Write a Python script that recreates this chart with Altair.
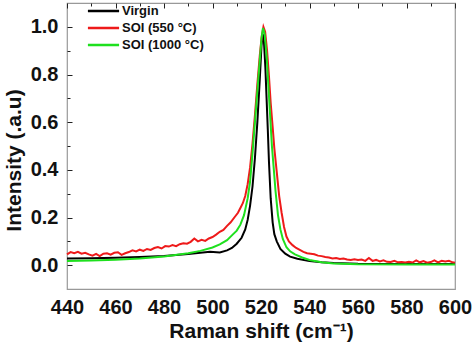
import altair as alt
import pandas as pd

# Virgin
virgin_x = [440, 450, 460, 470, 480, 490, 495, 499, 503, 506, 508, 510, 512, 513.5, 514.5,
            515.5, 516.5, 517.5, 518.5, 519.5, 520.2, 520.7, 521.2, 521.8, 522.3, 522.8,
            523.3, 524, 524.8, 525.5, 526.5, 528, 530, 532, 535, 540, 545, 550, 560, 580, 600]
virgin_y = [0.028, 0.029, 0.031, 0.034, 0.038, 0.047, 0.052, 0.056, 0.053, 0.062, 0.072,
            0.09, 0.115, 0.15, 0.19, 0.25, 0.33, 0.45, 0.6, 0.78, 0.92, 0.97, 0.94, 0.83,
            0.7, 0.57, 0.43, 0.28, 0.18, 0.13, 0.1, 0.068, 0.048, 0.036, 0.027, 0.017,
            0.012, 0.009, 0.006, 0.005, 0.005]

# SOI (1000 °C)
soi1000_x = [440, 450, 460, 470, 480, 490, 495, 500, 503, 506, 508, 510, 511.5, 513, 514.5,
             515.5, 516.5, 517.5, 518.5, 519.5, 520.2, 520.8, 521.5, 522.3, 523, 523.7,
             524.5, 525.3, 526, 527, 528, 529, 530.5, 532, 534, 537, 540, 545, 550, 560,
             580, 600]
soi1000_y = [0.017, 0.02, 0.023, 0.028, 0.036, 0.05, 0.06, 0.074, 0.087, 0.105, 0.125,
             0.145, 0.17, 0.21, 0.28, 0.35, 0.47, 0.6, 0.73, 0.86, 0.95, 0.995, 0.97, 0.88,
             0.76, 0.64, 0.5, 0.4, 0.31, 0.21, 0.15, 0.11, 0.075, 0.058, 0.045, 0.032,
             0.022, 0.012, 0.007, 0.004, 0.003, 0.003]

# SOI (550 °C)
soi550_x = [440, 441.5, 443, 444.5, 446, 447.5, 449, 450.5, 452, 453.5, 455, 456.5, 458,
            459.5, 461, 462.5, 464, 465.5, 467, 468.5, 470, 471.5, 473, 474.5, 476, 477.5,
            479, 480.5, 482, 483.5, 485, 486.5, 488, 489.5, 491, 492.5, 494, 495.5, 497,
            498.5, 500, 501.5, 503, 504.5, 506, 507.5, 509, 510.5, 511.5, 512.5, 513.5,
            514.5, 515.5, 516.5, 517.5, 518.5, 519.5, 520.3, 521, 521.7, 522.5, 523.3, 524,
            524.8, 525.5, 526.5, 527.5, 528.5, 529.5, 530.5, 531.5, 533, 534.5, 536, 537.5,
            539, 540.5, 542, 543.5, 545, 546.5, 548, 549.5, 551, 552.5, 554, 555.5, 557,
            558.5, 560, 561.5, 563, 564.5, 566, 567.5, 569, 570.5, 572, 573.5, 575, 576.5,
            578, 579.5, 581, 582.5, 584, 585.5, 587, 588.5, 590, 591.5, 593, 594.5, 596,
            597.5, 599, 600]
soi550_y = [0.045, 0.055, 0.05, 0.056, 0.048, 0.052, 0.045, 0.04, 0.047, 0.038, 0.048,
            0.05, 0.044, 0.052, 0.054, 0.043, 0.05, 0.055, 0.062, 0.058, 0.065, 0.06, 0.068,
            0.064, 0.072, 0.076, 0.07, 0.08, 0.078, 0.084, 0.08, 0.088, 0.092, 0.09, 0.098,
            0.112, 0.1, 0.106, 0.102, 0.112, 0.118, 0.128, 0.14, 0.148, 0.165, 0.18, 0.2,
            0.22, 0.24, 0.26, 0.29, 0.34, 0.41, 0.51, 0.63, 0.76, 0.88, 0.96, 1.0, 0.98,
            0.9, 0.79, 0.68, 0.58, 0.49, 0.39, 0.29, 0.22, 0.16, 0.12, 0.1, 0.084, 0.072,
            0.064, 0.056, 0.05, 0.048, 0.046, 0.04, 0.038, 0.034, 0.032, 0.028, 0.03, 0.026,
            0.028, 0.024, 0.022, 0.025, 0.022, 0.024, 0.018, 0.03, 0.018, 0.022, 0.016,
            0.02, 0.014, 0.013, 0.018, 0.012, 0.013, 0.011, 0.014, 0.011, 0.02, 0.012,
            0.017, 0.01, 0.013, 0.02, 0.012, 0.018, 0.015, 0.018, 0.012, 0.01]

series_names = ["Virgin", "SOI (550 °C)", "SOI (1000 °C)"]
series_colors = ["#000000", "#ee1a1a", "#1ee01e"]
draw_order = {"SOI (550 °C)": 0, "Virgin": 1, "SOI (1000 °C)": 2}

x_ticks = list(range(440, 601, 10))
y_ticks = [round(i * 0.1, 1) for i in range(0, 11)]

frames = []
for name, xs, ys in [("Virgin", virgin_x, virgin_y),
                     ("SOI (550 °C)", soi550_x, soi550_y),
                     ("SOI (1000 °C)", soi1000_x, soi1000_y)]:
    frames.append(pd.DataFrame({"shift": xs, "intensity": ys, "sample": name,
                                "order": draw_order[name]}))
df = pd.concat(frames, ignore_index=True)

FONT = "Liberation Sans"

x_axis = alt.Axis(
    values=x_ticks,
    labelExpr="datum.value % 20 == 0 ? datum.label : ''",
    format="d",
    labelFlush=False,
    labelOverlap=False,
    grid=True,
    gridColor="#222222",
    gridWidth=1,
    gridDash=alt.condition("datum.value % 20 == 0", alt.value([5, 2000]), alt.value([3, 2000])),
    ticks=False,
    domain=False,
    labelFont=FONT, labelFontSize=20, labelFontWeight="bold", labelColor="#111111",
    labelPadding=8,
    title="Raman shift (cm⁻¹)",
    titleFont=FONT, titleFontSize=21, titleFontWeight="bold", titleColor="#111111",
    titlePadding=3,
)

y_axis = alt.Axis(
    values=y_ticks,
    labelExpr="round(datum.value * 10) % 2 == 0 ? format(datum.value, '.1f') : ''",
    labelFlush=False,
    labelOverlap=False,
    grid=True,
    gridColor="#222222",
    gridWidth=1,
    gridDash=alt.condition("round(datum.value * 10) % 2 == 0", alt.value([5, 2000]), alt.value([3, 2000])),
    ticks=False,
    domain=False,
    labelFont=FONT, labelFontSize=20, labelFontWeight="bold", labelColor="#111111",
    labelPadding=9,
    title="Intensity (.a.u)",
    titleFont=FONT, titleFontSize=21, titleFontWeight="bold", titleColor="#111111",
    titlePadding=6,
    titleY=157,
)

chart = alt.Chart(df).mark_line(strokeWidth=2, interpolate="linear").encode(
    x=alt.X("shift:Q", scale=alt.Scale(domain=[440, 600], nice=False, zero=False), axis=x_axis),
    y=alt.Y("intensity:Q", scale=alt.Scale(domain=[-0.1, 1.1], nice=False, zero=False), axis=y_axis),
    color=alt.Color("sample:N",
                    scale=alt.Scale(domain=series_names, range=series_colors),
                    legend=alt.Legend(
                        title=None, orient="none", legendX=30, legendY=1.5,
                        symbolType="M-3,0H3", symbolSize=108, symbolStrokeWidth=2.5,
                        labelFont=FONT, labelFontSize=13, labelFontWeight="bold",
                        labelColor="#111111", labelOffset=12, rowPadding=3, padding=0,
                    )),
    order=alt.Order("order:Q"),
    detail="sample:N",
).properties(
    width=388, height=286,
    padding={"left": 67, "top": 3, "right": 19, "bottom": 53},
    autosize="none",
    background="white",
).configure_view(
    stroke="#999999", strokeWidth=1.2
)

chart.save("out.html", embed_options={"renderer": "svg", "actions": False})
